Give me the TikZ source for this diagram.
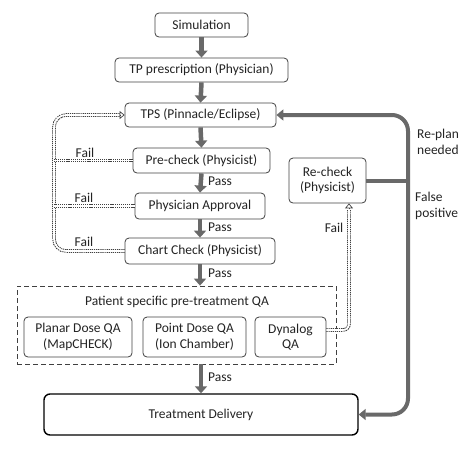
\documentclass[tikz,border=0pt]{standalone}
\usepackage{fontspec}
\setmainfont{Carlito}
\usetikzlibrary{arrows.meta,calc}
\definecolor{boxc}{RGB}{64,64,64}
\definecolor{arrc}{RGB}{105,105,105}
\definecolor{txtc}{RGB}{35,35,35}
\begin{document}
\begin{tikzpicture}[x=1pt,y=-1pt,
  font=\fontsize{13.5}{15.5}\selectfont, text=txtc,
  box/.style={draw=boxc, line width=0.8pt, rounded corners=4pt, align=center, inner sep=0pt},
  bigarrow/.style={draw=arrc, line width=4.5pt, -{Triangle[length=7pt,width=12pt]}},
  loopline/.style={draw=arrc, line width=4pt},
  dbl/.style={draw=boxc, line width=3.6pt, dash pattern=on 1.2pt off 0.9pt, postaction={draw=white, line width=1.6pt, solid}},
  tipopen/.style={draw=boxc, fill=white, line width=0.7pt, -{Triangle[open,length=5pt,width=8pt]}},
  lbl/.style={inner sep=0pt, anchor=west}]
\useasboundingbox (0,0) rectangle (474,451);
\node[box, minimum width=93pt, minimum height=24pt] (sim) at (201.5,25) {Simulation};
\node[box, minimum width=173pt, minimum height=24pt] (tp) at (201.5,70) {TP prescription (Physician)};
\node[box, minimum width=151pt, minimum height=24pt] (tps) at (200.5,115) {TPS (Pinnacle/Eclipse)};
\node[box, minimum width=137pt, minimum height=25pt] (pre) at (201.5,160.5) {Pre-check (Physicist)};
\node[box, minimum width=130pt, minimum height=26pt] (phys) at (200,206) {Physician Approval};
\node[box, minimum width=150pt, minimum height=26pt] (chart) at (200,251) {Chart Check (Physicist)};
\node[draw=boxc, line width=0.8pt, dash pattern=on 5pt off 3pt, minimum width=319pt, minimum height=78pt, inner sep=0pt] (qa) at (176.5,325) {};
\node[inner sep=0pt] (qalbl) at (177,302) {Patient specific pre-treatment QA};
\node[box, minimum width=108pt, minimum height=40pt] (planar) at (78,337) {Planar Dose QA\\(MapCHECK)};
\node[box, minimum width=103pt, minimum height=40pt] (point) at (194.5,337) {Point Dose QA\\(Ion Chamber)};
\node[box, minimum width=71pt, minimum height=40pt] (dyn) at (290.5,337) {Dynalog\\QA};
\node[box, draw=black, line width=1.4pt, rounded corners=6pt, minimum width=314pt, minimum height=41pt] (treat) at (201,414.5) {Treatment Delivery};
\node[box, minimum width=77pt, minimum height=45pt] (re) at (327.5,180.5) {Re-check\\(Physicist)};
% main arrows
\draw[bigarrow] (sim.south) -- (tp.north);
\draw[bigarrow] (tp.south) -- (tps.north);
\draw[bigarrow] (tps.south) -- (pre.north);
\draw[bigarrow] (pre.south) -- (phys.north);
\draw[bigarrow] (phys.south) -- (chart.north);
\draw[bigarrow] (chart.south) -- (chart.south |- qa.north);
\draw[bigarrow] (qa.south -| treat.north) -- (treat.north);
\node[lbl] (p1) at (208,181) {Pass};
\node[lbl] (p2) at (208,227) {Pass};
\node[lbl] (p3) at (208,273) {Pass};
\node[lbl] (p4) at (208,377) {Pass};
% right loop
\coordinate (rtop) at (408,115);
\coordinate (rbot) at (408,414.5);
\coordinate (rmid) at (408,180.5);
\draw[loopline, rounded corners=16pt, {Triangle[length=7pt,width=11pt]}-{Triangle[length=7pt,width=11pt]}] (tps.east) -- (rtop) -- (rbot) -- (treat.east);
\draw[loopline] (re.east) -- (rmid);
\node[align=left, inner sep=0pt, anchor=north west] (rp) at (417,129) {Re-plan\\needed};
\node[align=left, inner sep=0pt, anchor=north west] (fp) at (415,192) {False\\positive};
% fail loop
\coordinate (lt) at (54,115);
\coordinate (lb) at (54,251);
\coordinate (tpsin) at ($(tps.west)+(-5,0)$);
\draw[dbl, rounded corners=12pt] (chart.west) -- (lb) -- (lt) -- (tpsin);
\draw[tipopen] (tpsin) -- (tps.west);
\draw[dbl] (pre.west) -- (54,160.5);
\draw[dbl] (phys.west) -- (54,206);
\node[inner sep=0pt] (f1) at (85,153) {Fail};
\node[inner sep=0pt] (f2) at (84,198) {Fail};
\node[inner sep=0pt] (f3) at (84,242) {Fail};
% dynalog fail
\coordinate (dc) at (349,330);
\coordinate (rein) at ($(dc |- re.south)+(0,6)$);
\draw[dbl, rounded corners=6pt] ($(dyn.east)+(0,-7)$) -- (dc) -- (rein);
\draw[tipopen] (rein) -- (dc |- re.south);
\node[inner sep=0pt] (f4) at (334,228) {Fail};
\end{tikzpicture}
\end{document}
